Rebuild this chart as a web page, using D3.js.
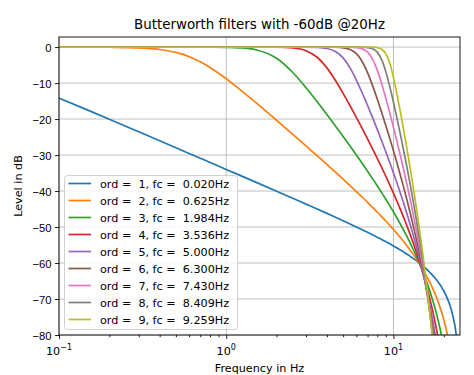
<!DOCTYPE html>
<html>
<head>
<meta charset="utf-8">
<script src="https://cdn.jsdelivr.net/npm/d3@7"></script>
<style>
  body { margin: 0; background: #fff; }
  svg { font-family: "DejaVu Sans", sans-serif; }
  .grid line { stroke: #b0b0b0; stroke-width: 0.8; }
  .legend text { white-space: pre; }
</style>
</head>
<body>
<svg class="main" width="474" height="375"></svg>
<script>
// filter orders and cutoffs (from the legend)
const orders = [1, 2, 3, 4, 5, 6, 7, 8, 9];
const cutoffs = [0.020, 0.625, 1.984, 3.536, 5.000, 6.300, 7.430, 8.409, 9.259];
const colors = ["#1f77b4", "#ff7f0e", "#2ca02c", "#d62728", "#9467bd",
  "#8c564b", "#e377c2", "#7f7f7f", "#bcbd22"];

// frequency points (Hz), each series uses a prefix of these
const freqs = [
  0.1, 0.15, 0.2, 0.3, 0.4, 0.5, 0.6, 0.7, 0.8, 1,
  1.2, 1.5, 2, 2.5, 3, 3.5, 4, 4.5, 5, 5.5,
  6, 6.5, 7, 7.5, 8, 8.5, 9, 9.5, 10, 10.5,
  11, 11.5, 12, 12.5, 13, 13.5, 14, 14.5, 15, 15.5,
  16, 16.5, 17, 17.5, 18, 18.5, 19, 19.5, 20, 21,
  22, 23, 23.5, 24, 24.5, 24.9
];

// level in dB
const ord1 = [
  -14.15, -17.58, -20.04, -23.54, -26.03, -27.97, -29.55, -30.89, -32.05, -33.99,
  -35.58, -37.53, -40.05, -42.01, -43.63, -45.00, -46.21, -47.28, -48.25, -49.14,
  -49.97, -50.74, -51.47, -52.16, -52.82, -53.45, -54.07, -54.66, -55.24, -55.81,
  -56.37, -56.92, -57.47, -58.02, -58.56, -59.11, -59.66, -60.22, -60.79, -61.37,
  -61.97, -62.58, -63.21, -63.87, -64.56, -65.29, -66.06, -66.89, -67.78, -69.83,
  -72.41, -75.99, -78.50, -82.04, -88.07, -102.05
];
const ord2 = [
  0, -0.01, -0.05, -0.22, -0.67, -1.49, -2.67, -4.11, -5.67, -8.79,
  -11.66, -15.38, -20.33, -24.23, -27.46, -30.21, -32.61, -34.76, -36.70, -38.48,
  -40.13, -41.68, -43.13, -44.52, -45.84, -47.10, -48.33, -49.52, -50.68, -51.82,
  -52.93, -54.04, -55.14, -56.23, -57.32, -58.42, -59.52, -60.64, -61.78, -62.94,
  -64.13, -65.35, -66.62, -67.94, -69.32, -70.78, -72.32, -73.98, -75.76, -79.85,
  -85.01, -92.17
];
const ord3 = [
  0, 0, 0, 0, 0, 0, 0, -0.01, -0.02, -0.07,
  -0.20, -0.73, -3.12, -7.06, -11.29, -15.21, -18.75, -21.94, -24.84, -27.51,
  -29.98, -32.30, -34.48, -36.55, -38.53, -40.43, -42.27, -44.06, -45.80, -47.50,
  -49.18, -50.84, -52.48, -54.12, -55.76, -57.40, -59.06, -60.74, -62.45, -64.19,
  -65.97, -67.81, -69.71, -71.69, -73.76, -75.95, -78.26, -80.74, -83.41, -89.55
];
const ord4 = [
  0, 0, 0, 0, 0, 0, 0, 0, 0, 0,
  0, 0, -0.04, -0.25, -1.00, -2.83, -5.78, -9.29, -12.86, -16.30,
  -19.54, -22.61, -25.51, -28.27, -30.90, -33.44, -35.89, -38.27, -40.59, -42.86,
  -45.10, -47.31, -49.50, -51.69, -53.87, -56.06, -58.27, -60.51, -62.79, -65.11,
  -67.49, -69.94, -72.47, -75.11, -77.88, -80.79, -83.88
];
const ord5 = [
  0, 0, 0, 0, 0, 0, 0, 0, 0, 0,
  0, 0, 0, 0, -0.02, -0.10, -0.39, -1.23, -3.01, -5.79,
  -9.15, -12.69, -16.19, -19.59, -22.86, -26.02, -29.08, -32.05, -34.95, -37.79,
  -40.59, -43.35, -46.09, -48.82, -51.55, -54.30, -57.06, -59.86, -62.70, -65.60,
  -68.57, -71.64, -74.81, -78.11, -81.56, -85.20
];
const ord6 = [
  0, 0, 0, 0, 0, 0, 0, 0, 0, 0,
  0, 0, 0, 0, 0, 0, -0.01, -0.05, -0.21, -0.67,
  -1.83, -4.01, -7.12, -10.72, -14.45, -18.16, -21.80, -25.35, -28.83, -32.24,
  -35.59, -38.91, -42.20, -45.47, -48.75, -52.04, -55.35, -58.71, -62.12, -65.60,
  -69.17, -72.85, -76.65, -80.61, -84.76
];
const ord7 = [
  0, 0, 0, 0, 0, 0, 0, 0, 0, 0,
  0, 0, 0, 0, 0, 0, 0, 0, -0.01, -0.04,
  -0.15, -0.49, -1.41, -3.35, -6.41, -10.16, -14.18, -18.24, -22.26, -26.23,
  -30.14, -34.00, -37.84, -41.66, -45.48, -49.32, -53.19, -57.10, -61.08, -65.14,
  -69.31, -73.60, -78.04, -82.66
];
const ord8 = [
  0, 0, 0, 0, 0, 0, 0, 0, 0, 0,
  0, 0, 0, 0, 0, 0, 0, 0, 0, 0,
  -0.01, -0.04, -0.14, -0.47, -1.41, -3.49, -6.82, -10.93, -15.34, -19.80,
  -24.25, -28.66, -33.04, -37.41, -41.78, -46.16, -50.58, -55.06, -59.61, -64.25,
  -69.01, -73.91, -78.98, -84.26
];
const ord9 = [
  0, 0, 0, 0, 0, 0, 0, 0, 0, 0,
  0, 0, 0, 0, 0, 0, 0, 0, 0, 0,
  0, 0, -0.01, -0.04, -0.17, -0.60, -1.83, -4.48, -8.45, -13.12,
  -18.00, -22.93, -27.85, -32.76, -37.67, -42.60, -47.58, -52.61, -57.73, -62.95,
  -68.30, -73.82, -79.52, -85.46
];
const levels = [ord1, ord2, ord3, ord4, ord5, ord6, ord7, ord8, ord9];

const yTicks = [0, -10, -20, -30, -40, -50, -60, -70, -80];
const xTicks = [0.1, 1, 10];
const xExponents = ["\u22121", "0", "1"];

const plot = { left: 59, right: 460, top: 37, bottom: 335 };

const svg = d3.select(".main");

const x = d3.scaleLog().domain([0.1, 25]).range([plot.left, plot.right]);
const y = d3.scaleLinear().domain([-80, 2.8]).range([plot.bottom, plot.top]);

svg.append("defs").append("clipPath").attr("id", "clip")
  .append("rect")
  .attr("x", plot.left).attr("y", plot.top)
  .attr("width", plot.right - plot.left).attr("height", plot.bottom - plot.top);

// grid
const grid = svg.append("g").attr("class", "grid");
grid.selectAll(".gx").data(xTicks).join("line")
  .attr("x1", d => x(d)).attr("x2", d => x(d))
  .attr("y1", plot.top).attr("y2", plot.bottom);
grid.selectAll(".gy").data(yTicks).join("line")
  .attr("x1", plot.left).attr("x2", plot.right)
  .attr("y1", d => y(d)).attr("y2", d => y(d));

// curves
const line = d3.line()
  .x(d => x(d[0]))
  .y(d => y(d[1]))
  .curve(d3.curveMonotoneX);

const curves = svg.append("g").attr("clip-path", "url(#clip)");
levels.forEach((vals, i) => {
  const pts = vals.map((v, k) => [freqs[k], v]);
  curves.append("path")
    .attr("d", line(pts))
    .attr("fill", "none")
    .attr("stroke", colors[i])
    .attr("stroke-width", 1.7)
    .attr("stroke-linejoin", "round");
});

// axes
const minor = [];
[0.1, 1, 10].forEach(dec => {
  for (let m = 2; m <= 9; m++) if (dec * m <= 25) minor.push(dec * m);
});

const xAxis = svg.append("g")
  .attr("transform", `translate(0,${plot.bottom})`)
  .call(d3.axisBottom(x).tickValues(minor).tickSize(2.2).tickFormat(""));
const xMajor = svg.append("g")
  .attr("transform", `translate(0,${plot.bottom})`)
  .call(d3.axisBottom(x).tickValues(xTicks).tickSize(3.9).tickFormat(""));

const yAxis = svg.append("g")
  .attr("transform", `translate(${plot.left},0)`)
  .call(d3.axisLeft(y).tickValues(yTicks).tickSize(3.9)
    .tickFormat(d => d3.format("d")(d).replace("-", "\u2212")));

[xAxis, xMajor, yAxis].forEach(g => {
  g.select(".domain").remove();
  g.selectAll("line").attr("stroke", "#000").attr("stroke-width", 0.9);
});
yAxis.selectAll("text")
  .attr("font-size", 11.2).attr("fill", "#000")
  .attr("x", -7.5).attr("dy", "0.36em");

const xLabels = svg.append("g");
xTicks.forEach((t, i) => {
  const txt = xLabels.append("text")
    .attr("x", x(t)).attr("y", plot.bottom + 19.5)
    .attr("text-anchor", "middle")
    .attr("font-size", 11.2);
  txt.append("tspan").text("10");
  txt.append("tspan").text(xExponents[i])
    .attr("font-size", 8).attr("dy", -4.5);
});

// frame
svg.append("rect")
  .attr("x", plot.left).attr("y", plot.top)
  .attr("width", plot.right - plot.left).attr("height", plot.bottom - plot.top)
  .attr("fill", "none").attr("stroke", "#000").attr("stroke-width", 0.9);

// labels
svg.append("text")
  .attr("x", (plot.left + plot.right) / 2).attr("y", 29)
  .attr("text-anchor", "middle").attr("font-size", 13.4)
  .text("Butterworth filters with -60dB @20Hz");
svg.append("text")
  .attr("x", (plot.left + plot.right) / 2).attr("y", 372)
  .attr("text-anchor", "middle").attr("font-size", 11.2)
  .text("Frequency in Hz");
svg.append("text")
  .attr("transform", `translate(22,${(plot.top + plot.bottom) / 2}) rotate(-90)`)
  .attr("text-anchor", "middle").attr("font-size", 11.2)
  .text("Level in dB");

// legend
const legend = svg.append("g").attr("class", "legend");
legend.append("rect")
  .attr("x", 64.5).attr("y", 175.5)
  .attr("width", 173).attr("height", 154)
  .attr("rx", 3)
  .attr("fill", "#fff").attr("fill-opacity", 0.8)
  .attr("stroke", "#cccccc").attr("stroke-width", 0.9);
orders.forEach((n, i) => {
  const ly = 183.5 + i * 17;
  legend.append("line")
    .attr("x1", 68.5).attr("x2", 91)
    .attr("y1", ly).attr("y2", ly)
    .attr("stroke", colors[i]).attr("stroke-width", 1.7);
  legend.append("text")
    .attr("x", 100).attr("y", ly).attr("dy", "0.36em")
    .attr("font-size", 11.2)
    .text(`ord = ${d3.format("2d")(n)}, fc = ${d3.format("6.3f")(cutoffs[i])}Hz`);
});
</script>
</body>
</html>
